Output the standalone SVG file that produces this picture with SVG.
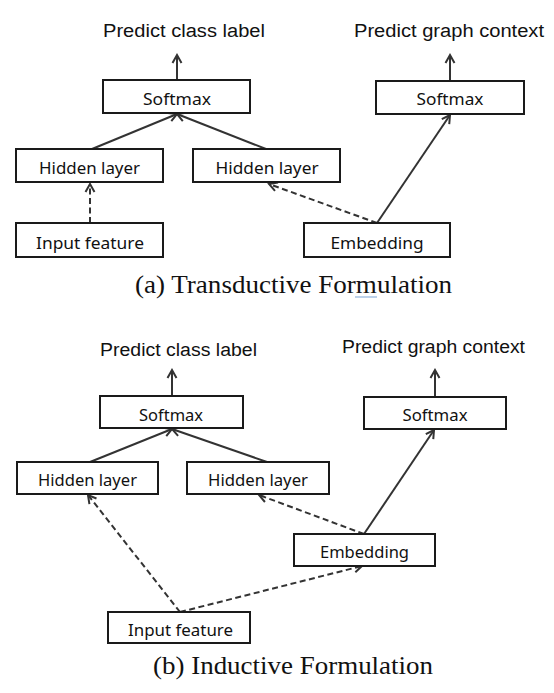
<svg xmlns="http://www.w3.org/2000/svg" width="554" height="693" viewBox="0 0 554 693">
<style>
  .box { fill: #fff; stroke: #1a1a1a; stroke-width: 2; }
  .lbl { font-family: "Noto Sans", "Open Sans", sans-serif; font-size: 16.5px; fill: #111; text-anchor: middle; }
  .top { font-family: "Liberation Sans", Arial, sans-serif; font-size: 18px; fill: #111; }
  .cap { font-family: "Liberation Serif", "Times New Roman", serif; font-size: 25px; fill: #111; }
  .c { fill: none; stroke: #333; stroke-width: 2; marker-end: url(#ah); }
  .d { stroke-dasharray: 6 3.5; }
</style>
<defs>
  <marker id="ah" viewBox="-10 -6 12 12" markerWidth="12" markerHeight="12" refX="0" refY="0" orient="auto" markerUnits="userSpaceOnUse">
    <path d="M-8,-4.5 L0,0 L-8,4.5" fill="none" stroke="#333" stroke-width="2"/>
  </marker>
</defs>
<rect width="554" height="693" fill="#fff"/>

<g id="connectors">
  <line class="c" x1="177" y1="80" x2="177" y2="55"/>
  <line class="c" x1="450" y1="81" x2="450" y2="55"/>
  <line class="c" x1="92" y1="149" x2="177" y2="114"/>
  <line class="c" x1="266" y1="149" x2="177" y2="114"/>
  <line class="c d" x1="90" y1="223" x2="90" y2="184"/>
  <line class="c d" x1="377" y1="223" x2="269" y2="184"/>
  <line class="c" x1="377" y1="223" x2="450" y2="115"/>

  <line class="c" x1="172" y1="396" x2="172" y2="370"/>
  <line class="c" x1="435" y1="397" x2="435" y2="370"/>
  <line class="c" x1="90" y1="462" x2="172" y2="429"/>
  <line class="c" x1="267" y1="462" x2="172" y2="429"/>
  <line class="c d" x1="180" y1="612" x2="88" y2="495"/>
  <line class="c d" x1="180" y1="612" x2="362" y2="566"/>
  <line class="c d" x1="364" y1="534" x2="259" y2="495"/>
  <line class="c" x1="364" y1="534" x2="434" y2="430"/>
</g>

<g id="a-predict-class"><text class="top" x="103" y="37" textLength="162" lengthAdjust="spacingAndGlyphs">Predict class label</text></g>
<g id="a-predict-graph"><text class="top" x="354" y="37" textLength="190" lengthAdjust="spacingAndGlyphs">Predict graph context</text></g>
<g id="a-softmax-left"><rect class="box" x="103" y="80" width="147" height="33"/><text class="lbl" x="177" y="105" textLength="68" lengthAdjust="spacingAndGlyphs">Softmax</text></g>
<g id="a-softmax-right"><rect class="box" x="376" y="81" width="148" height="33"/><text class="lbl" x="450" y="105" textLength="67" lengthAdjust="spacingAndGlyphs">Softmax</text></g>
<g id="a-hidden-1"><rect class="box" x="16" y="149" width="147" height="33"/><text class="lbl" x="89.5" y="174" textLength="101" lengthAdjust="spacingAndGlyphs">Hidden layer</text></g>
<g id="a-hidden-2"><rect class="box" x="193" y="149" width="147" height="33"/><text class="lbl" x="267" y="174" textLength="103" lengthAdjust="spacingAndGlyphs">Hidden layer</text></g>
<g id="a-input"><rect class="box" x="16" y="223" width="147" height="34"/><text class="lbl" x="90" y="249" textLength="108" lengthAdjust="spacingAndGlyphs">Input feature</text></g>
<g id="a-embedding"><rect class="box" x="304" y="223" width="146" height="34"/><text class="lbl" x="377" y="249" textLength="93" lengthAdjust="spacingAndGlyphs">Embedding</text></g>
<g id="a-caption"><text class="cap" x="135" y="293" textLength="317" lengthAdjust="spacingAndGlyphs">(a) Transductive Formulation</text>
<line x1="355" y1="297" x2="377" y2="297" stroke="#8fb3dc" stroke-width="1.2"/></g>

<g id="b-predict-class"><text class="top" x="100" y="356" textLength="157" lengthAdjust="spacingAndGlyphs">Predict class label</text></g>
<g id="b-predict-graph"><text class="top" x="342" y="353" textLength="183" lengthAdjust="spacingAndGlyphs">Predict graph context</text></g>
<g id="b-softmax-left"><rect class="box" x="100" y="396" width="143" height="32"/><text class="lbl" x="171" y="421" textLength="64" lengthAdjust="spacingAndGlyphs">Softmax</text></g>
<g id="b-softmax-right"><rect class="box" x="364" y="397" width="142" height="32"/><text class="lbl" x="435" y="421" textLength="65" lengthAdjust="spacingAndGlyphs">Softmax</text></g>
<g id="b-hidden-1"><rect class="box" x="17" y="462" width="141" height="32"/><text class="lbl" x="87.5" y="486" textLength="99" lengthAdjust="spacingAndGlyphs">Hidden layer</text></g>
<g id="b-hidden-2"><rect class="box" x="187" y="462" width="142" height="32"/><text class="lbl" x="258" y="486" textLength="100" lengthAdjust="spacingAndGlyphs">Hidden layer</text></g>
<g id="b-embedding"><rect class="box" x="294" y="534" width="141" height="32"/><text class="lbl" x="364.5" y="558" textLength="89" lengthAdjust="spacingAndGlyphs">Embedding</text></g>
<g id="b-input"><rect class="box" x="108" y="612" width="142" height="31"/><text class="lbl" x="180.5" y="636" textLength="105" lengthAdjust="spacingAndGlyphs">Input feature</text></g>
<g id="b-caption"><text class="cap" x="153" y="674" textLength="280" lengthAdjust="spacingAndGlyphs">(b) Inductive Formulation</text></g>
</svg>
